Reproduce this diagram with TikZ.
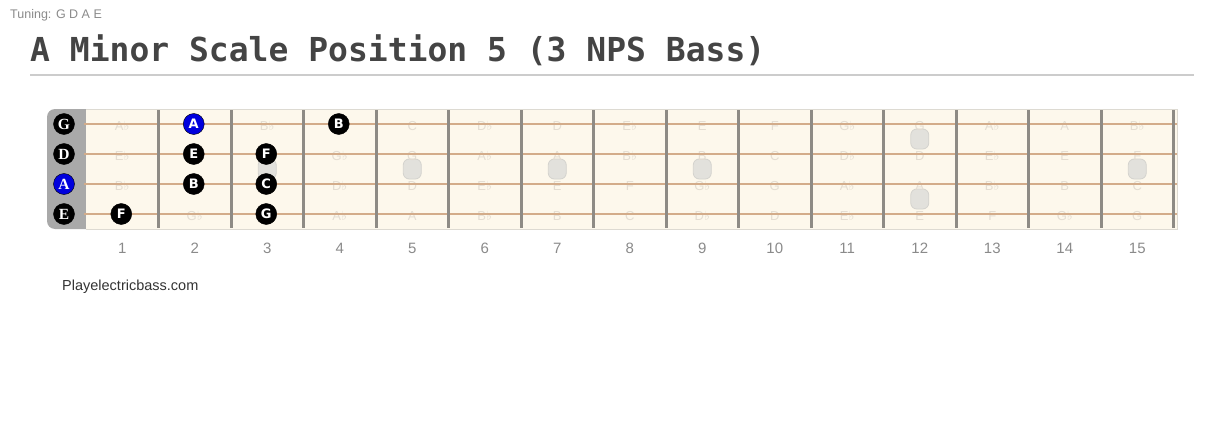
\documentclass[tikz,border=0pt]{standalone}
\usepackage{fontspec}
\setmainfont{Liberation Sans}
\newfontfamily\monofam{DejaVu Sans Mono}
\newfontfamily\dvfam{DejaVu Sans}
\newfontfamily\serfam{Liberation Serif}
\definecolor{titlecol}{HTML}{444444}
\definecolor{rulecol}{HTML}{CCCCCC}
\definecolor{boardbg}{HTML}{FDF8EC}
\definecolor{boardedge}{HTML}{DDDAD2}
\definecolor{nutgray}{HTML}{A9A9A9}
\definecolor{stringcol}{HTML}{D3AC8A}
\definecolor{fretcol}{HTML}{8E8B85}
\definecolor{faintcol}{HTML}{E4DDD2}
\definecolor{inlaycol}{HTML}{E2E1DC}
\definecolor{inlayedge}{HTML}{D4D3CE}
\definecolor{numcol}{HTML}{8A8A8A}
\definecolor{rootblue}{HTML}{0000DD}
\newcommand{\fl}{{\dvfam\fontsize{12.5}{12.5}\selectfont\char"266D}}
\tikzset{
  faint/.style={text=faintcol, font=\fontsize{13}{13}\selectfont, inner sep=0pt},
  notedot/.style={circle, fill=black, draw=black, minimum size=21pt, inner sep=0pt, text=white, font=\dvfam\bfseries\fontsize{13}{13}\selectfont},
  opendot/.style={notedot, font=\serfam\bfseries\fontsize{15.5}{15.5}\selectfont},
  rootdot/.style={fill=rootblue, draw=black},
  inlay/.style={fill=inlaycol, draw=inlayedge, line width=0.8pt, rounded corners=6pt},
  fretnum/.style={text=numcol, font=\fontsize{15}{15}\selectfont, inner sep=0pt},
  stringline/.style={stringcol, line width=2.5pt},
  fretline/.style={fretcol, line width=3pt}
}
\begin{document}
\begin{tikzpicture}[x=1pt,y=-1pt]
\useasboundingbox (0,0) rectangle (1224,428);
% header
\node[anchor=base west, inner sep=0pt, text=numcol, font=\fontsize{12.5}{12.5}\selectfont] (tuning) at (10,19) {Tuning: G D A E};
\node[anchor=base west, inner sep=0pt, text=titlecol, font=\monofam\bfseries\fontsize{33}{33}\selectfont] (title) at (30,62) {A Minor Scale Position 5 (3 NPS Bass)};
\draw[rulecol, line width=1.5pt] (30,75) -- (1194,75);
% nut and board
\fill[nutgray, rounded corners=8pt] (47,109) rectangle (100,229);
\fill[boardbg] (86,109) rectangle (1177,229);
\draw[boardedge, line width=1pt] (86,109) -- (1177,109) -- (1177,229) -- (86,229);
% inlays
\foreach \f/\yy [count=\i] in {3/169,5/169,7/169,9/169,12/139,12/199,15/169}{
  \node[inlay, minimum width=18pt, minimum height=20pt, inner sep=0pt] (inlay\i) at ({86+72.5*\f-36.25},\yy) {};
}
% faint note names
\foreach \n [count=\f] in {A\fl,A,B\fl,B,C,D\fl,D,E\fl,E,F,G\fl,G,A\fl,A,B\fl}{
  \node[faint] (g\f) at ({86+72.5*\f-36.25},126) {\n};}
\foreach \n [count=\f] in {E\fl,E,F,G\fl,G,A\fl,A,B\fl,B,C,D\fl,D,E\fl,E,F}{
  \node[faint] (d\f) at ({86+72.5*\f-36.25},156) {\n};}
\foreach \n [count=\f] in {B\fl,B,C,D\fl,D,E\fl,E,F,G\fl,G,A\fl,A,B\fl,B,C}{
  \node[faint] (a\f) at ({86+72.5*\f-36.25},186) {\n};}
\foreach \n [count=\f] in {F,G\fl,G,A\fl,A,B\fl,B,C,D\fl,D,E\fl,E,F,G\fl,G}{
  \node[faint] (e\f) at ({86+72.5*\f-36.25},216) {\n};}
% strings
\foreach \yy in {124,154,184,214}{
  \draw[stringline] (84,\yy) -- (1177,\yy);
}
% frets
\foreach \f in {1,...,15}{
  \draw[fretline] ({86+72.5*\f},110) -- ({86+72.5*\f},228);
}
% fret numbers
\foreach \f in {1,...,15}{
  \node[fretnum] (num\f) at ({86+72.5*\f-36.25},248) {\f};
}
% open strings
\node[opendot] (openG) at (64,124) {G};
\node[opendot] (openD) at (64,154) {D};
\node[opendot, rootdot] (openA) at (64,184) {A};
\node[opendot] (openE) at (64,214) {E};
% scale notes
\node[notedot, rootdot] (gA) at (193.75,124) {A};
\node[notedot] (gB) at (338.75,124) {B};
\node[notedot] (dE) at (193.75,154) {E};
\node[notedot] (dF) at (266.25,154) {F};
\node[notedot] (aB) at (193.75,184) {B};
\node[notedot] (aC) at (266.25,184) {C};
\node[notedot] (eF) at (121.25,214) {F};
\node[notedot] (eG) at (266.25,214) {G};
% footer
\node[anchor=base west, inner sep=0pt, text=black!80, font=\fontsize{14.5}{14.5}\selectfont] (site) at (62,290) {Playelectricbass.com};
\end{tikzpicture}
\end{document}
